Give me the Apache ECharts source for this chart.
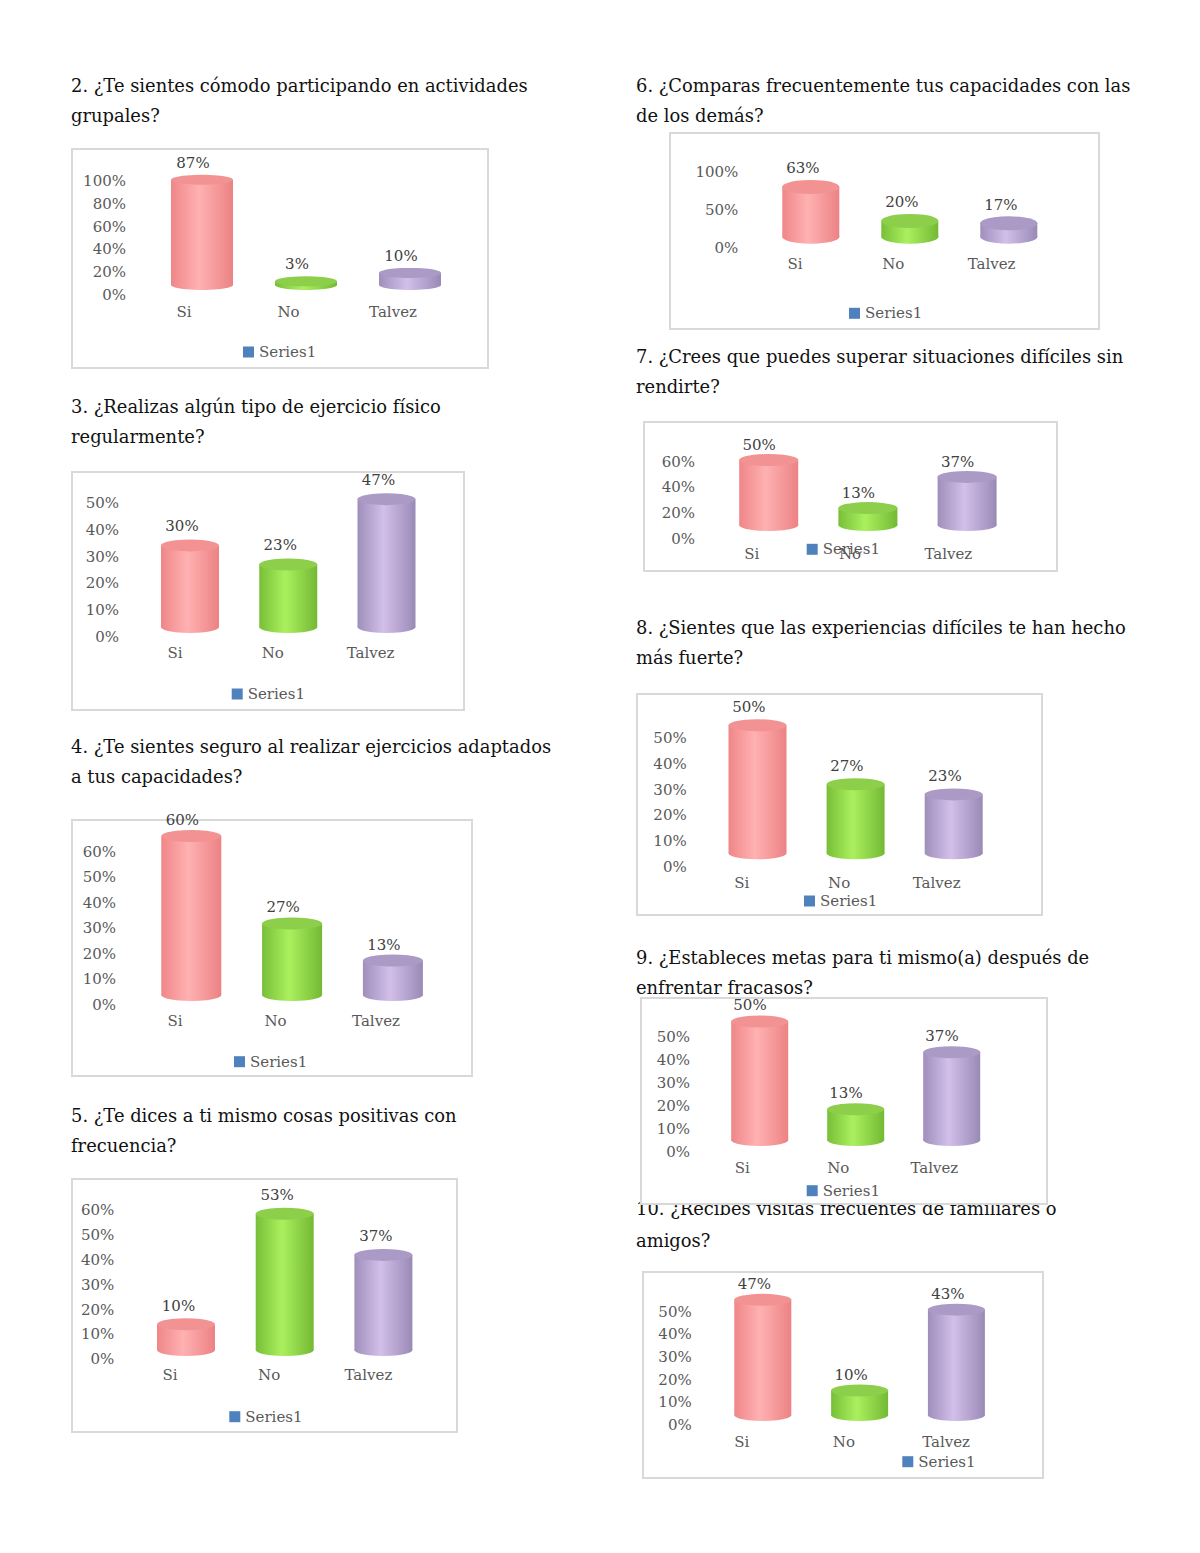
<!DOCTYPE html>
<html>
<head>
<meta charset="utf-8">
<script src="https://cdn.jsdelivr.net/npm/echarts@6/dist/echarts.min.js"></script>
<style>
  body { margin: 0; width: 1200px; height: 1553px; position: relative; overflow: hidden; background: #fff; font-family: "DejaVu Serif", serif; }
  .q { position: absolute; z-index: 1; font-size: 17.9px; line-height: 29.5px; color: #111; white-space: nowrap; }
  .box { position: absolute; z-index: 2; background: #fff; box-shadow: inset 0 0 0 2px #d9d9d9; }
  .box .plot { position: absolute; left: 0; top: -24px; width: 100%; height: calc(100% + 24px); }
</style>
</head>
<body>

<div class="q" style="left:71px;top:71px">2. ¿Te sientes cómodo participando en actividades<br>grupales?</div>
<div class="q" style="left:71px;top:392px">3. ¿Realizas algún tipo de ejercicio físico<br>regularmente?</div>
<div class="q" style="left:71px;top:732px">4. ¿Te sientes seguro al realizar ejercicios adaptados<br>a tus capacidades?</div>
<div class="q" style="left:71px;top:1101px">5. ¿Te dices a ti mismo cosas positivas con<br>frecuencia?</div>
<div class="q" style="left:636px;top:71px">6. ¿Comparas frecuentemente tus capacidades con las<br>de los demás?</div>
<div class="q" style="left:636px;top:342px">7. ¿Crees que puedes superar situaciones difíciles sin<br>rendirte?</div>
<div class="q" style="left:636px;top:613px">8. ¿Sientes que las experiencias difíciles te han hecho<br>más fuerte?</div>
<div class="q" style="left:636px;top:943px">9. ¿Estableces metas para ti mismo(a) después de<br>enfrentar fracasos?</div>
<div class="q" style="left:636px;top:1193px;line-height:32px">10. ¿Recibes visitas frecuentes de familiares o<br>amigos?</div>

<div class="box" style="left:71px;top:148px;width:418px;height:221px"><div class="plot" id="c2"></div></div>
<div class="box" style="left:71px;top:471px;width:394px;height:240px"><div class="plot" id="c3"></div></div>
<div class="box" style="left:71px;top:819px;width:402px;height:258px"><div class="plot" id="c4"></div></div>
<div class="box" style="left:71px;top:1178px;width:387px;height:255px"><div class="plot" id="c5"></div></div>
<div class="box" style="left:669px;top:132px;width:431px;height:198px"><div class="plot" id="c6"></div></div>
<div class="box" style="left:643px;top:421px;width:415px;height:151px"><div class="plot" id="c7"></div></div>
<div class="box" style="left:636px;top:693px;width:407px;height:223px"><div class="plot" id="c8"></div></div>
<div class="box" style="left:640px;top:997px;width:408px;height:208px"><div class="plot" id="c9"></div></div>
<div class="box" style="left:642px;top:1271px;width:402px;height:208px"><div class="plot" id="c10"></div></div>

<script>
// datos
var categories = ["Si", "No", "Talvez"];
var q2 = [0.87, 0.03, 0.10];
var q3 = [0.30, 0.23, 0.47];
var q4 = [0.60, 0.27, 0.13];
var q5 = [0.10, 0.53, 0.37];
var q6 = [0.63, 0.20, 0.17];
var q7 = [0.50, 0.13, 0.37];
var q8 = [0.50, 0.27, 0.23];
var q9 = [0.50, 0.13, 0.37];
var q10 = [0.47, 0.10, 0.43];
var seriesName = "Series1";

// colores de los cilindros (rosa, verde, lila)
var bodyStops = [
  [{ offset: 0, color: "#ef8688" }, { offset: 0.45, color: "#ffb1b2" }, { offset: 1, color: "#ec8284" }],
  [{ offset: 0, color: "#78bf38" }, { offset: 0.45, color: "#aaf05e" }, { offset: 1, color: "#74b934" }],
  [{ offset: 0, color: "#9f8fbb" }, { offset: 0.45, color: "#d2bfea" }, { offset: 1, color: "#998ab5" }],
];
var topColors = ["#f39293", "#8dce4b", "#aa9ac5"];

// el div del grafico sobresale 24px por arriba del recuadro (para que no se corten las etiquetas)
var PAD = 24;

function percent(v) {
  return Math.round(v * 100) + "%";
}

function cylinderChart(id, values, axisMax, axisStep, L) {
  var chart = echarts.init(document.getElementById(id), null, { renderer: "svg" });
  var y0 = L.y0 + PAD;
  var yTop = L.yTop + PAD;
  var barBottom = L.barBottom + PAD;
  var barTop = barBottom - L.scale * axisMax;
  var labelLeft = L.catFirst - L.catGap / 2;
  var barLeft = L.barFirst - L.barGap / 2;
  var ellipse = L.ellipse || 12;

  var body = values.map(function (v, i) {
    return { value: v, itemStyle: { color: new echarts.graphic.LinearGradient(0, 0, 1, 0, bodyStops[i]) } };
  });
  var tops = values.map(function (v, i) {
    return { value: v, itemStyle: { color: topColors[i] } };
  });

  var text = { fontFamily: "DejaVu Serif", fontSize: 15, lineHeight: 15, color: "#595959" };

  chart.setOption({
    animation: false,
    legend: {
      data: [{ name: seriesName, itemStyle: { color: "#4f81bd" } }],
      icon: "rect",
      itemWidth: 11,
      itemHeight: 11,
      left: L.legendX,
      top: L.legendY + PAD - 7.5,
      padding: 0,
      selectedMode: false,
      textStyle: text,
    },
    grid: [
      { left: labelLeft, top: yTop, width: 3 * L.catGap, height: y0 - yTop, outerBoundsMode: "none" },
      { left: barLeft, top: barTop, width: 3 * L.barGap, height: barBottom - barTop, outerBoundsMode: "none" },
    ],
    xAxis: [
      {
        type: "category",
        gridIndex: 0,
        data: categories,
        axisLine: { show: false },
        axisTick: { show: false },
        axisLabel: Object.assign({ margin: L.catY - L.y0 - 7.5, interval: 0 }, text),
      },
      { type: "category", gridIndex: 1, data: categories, show: false },
    ],
    yAxis: [
      {
        type: "value",
        gridIndex: 0,
        min: 0,
        max: axisMax,
        interval: axisStep,
        axisLine: { show: false },
        axisTick: { show: false },
        splitLine: { show: false },
        axisLabel: Object.assign({ margin: labelLeft - L.labelRight, formatter: percent }, text),
      },
      { type: "value", gridIndex: 1, min: 0, max: axisMax, show: false },
    ],
    series: [
      {
        name: seriesName,
        type: "bar",
        xAxisIndex: 1,
        yAxisIndex: 1,
        barWidth: L.barWidth,
        z: 2,
        data: body,
        label: {
          show: true,
          position: "top",
          distance: -L.labelDy - 7.5,
          offset: [L.labelDx, 0],
          formatter: function (p) { return percent(p.value); },
          fontFamily: "DejaVu Serif",
          fontSize: 15,
          lineHeight: 15,
          color: "#404040",
        },
      },
      {
        name: "base",
        type: "pictorialBar",
        xAxisIndex: 1,
        yAxisIndex: 1,
        symbol: "circle",
        symbolSize: [L.barWidth, ellipse],
        symbolOffset: [0, "50%"],
        z: 1,
        data: body,
      },
      {
        name: "tapa",
        type: "pictorialBar",
        xAxisIndex: 1,
        yAxisIndex: 1,
        symbol: "circle",
        symbolSize: [L.barWidth, ellipse],
        symbolPosition: "end",
        symbolOffset: [0, "-50%"],
        z: 3,
        data: tops,
      },
    ],
  });
  return chart;
}

cylinderChart("c2", q2, 1, 0.2, { y0: 147, yTop: 33, labelRight: 55, catFirst: 113, catGap: 104.5, catY: 164, barFirst: 131, barGap: 104, barBottom: 137, scale: 121, barWidth: 62, ellipse: 10, labelDx: -9, labelDy: -17, legendX: 172, legendY: 204 });
cylinderChart("c3", q3, 0.5, 0.1, { y0: 166, yTop: 32, labelRight: 48, catFirst: 104, catGap: 97.8, catY: 182, barFirst: 119, barGap: 98.25, barBottom: 156, scale: 272, barWidth: 58, labelDx: -8, labelDy: -19, legendX: 160.7, legendY: 223 });
cylinderChart("c4", q4, 0.6, 0.1, { y0: 186, yTop: 32.7, labelRight: 45, catFirst: 104, catGap: 100.5, catY: 202, barFirst: 120.3, barGap: 100.8, barBottom: 176, scale: 265, barWidth: 60, labelDx: -9, labelDy: -16, legendX: 163, legendY: 242.7 });
cylinderChart("c5", q5, 0.6, 0.1, { y0: 181.3, yTop: 32, labelRight: 43.3, catFirst: 99, catGap: 99.2, catY: 197, barFirst: 115, barGap: 98.7, barBottom: 172, scale: 257, barWidth: 58, labelDx: -7.5, labelDy: -18.5, legendX: 158.3, legendY: 238.7 });
cylinderChart("c6", q6, 1, 0.5, { y0: 116.3, yTop: 39.7, labelRight: 69.3, catFirst: 126, catGap: 98.3, catY: 132.3, barFirst: 141.8, barGap: 99, barBottom: 104.7, scale: 79, barWidth: 57, ellipse: 14, labelDx: -8, labelDy: -18.7, legendX: 180, legendY: 181.3 });
cylinderChart("c7", q7, 0.6, 0.2, { y0: 118, yTop: 40.7, labelRight: 52, catFirst: 108.7, catGap: 98.3, catY: 133, barFirst: 125.7, barGap: 99.2, barBottom: 104, scale: 130, barWidth: 59, labelDx: -9.5, labelDy: -15.3, legendX: 163.7, legendY: 128.3 });
cylinderChart("c8", q8, 0.5, 0.1, { y0: 173.7, yTop: 45.3, labelRight: 50.7, catFirst: 105.7, catGap: 97.5, catY: 190.3, barFirst: 121.5, barGap: 98.1, barBottom: 160.3, scale: 256, barWidth: 58, labelDx: -8.7, labelDy: -18.4, legendX: 168, legendY: 208 });
cylinderChart("c9", q9, 0.5, 0.1, { y0: 154.7, yTop: 39.7, labelRight: 50, catFirst: 102.3, catGap: 96, catY: 171.3, barFirst: 119.7, barGap: 96, barBottom: 143, scale: 237, barWidth: 57, labelDx: -9.7, labelDy: -16.6, legendX: 166.7, legendY: 193.7 });
cylinderChart("c10", q10, 0.5, 0.1, { y0: 154, yTop: 40.7, labelRight: 49.7, catFirst: 99.7, catGap: 102.2, catY: 170.7, barFirst: 120.8, barGap: 96.8, barBottom: 144, scale: 245, barWidth: 57, labelDx: -8.5, labelDy: -16, legendX: 260.3, legendY: 190.7 });
</script>
</body>
</html>
